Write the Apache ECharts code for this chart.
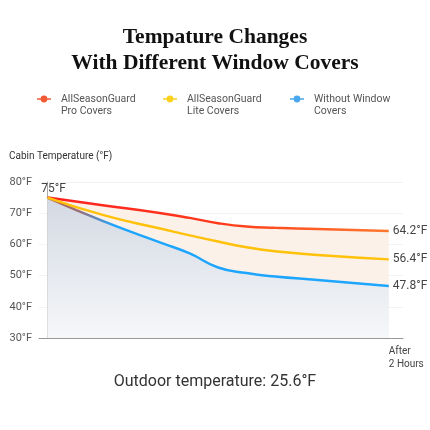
<!DOCTYPE html>
<html>
<head>
<meta charset="utf-8">
<script src="https://cdn.jsdelivr.net/npm/echarts@6/dist/echarts.min.js"></script>
<style>
  html, body { margin: 0; padding: 0; background: #fff; }
  #chart { width: 430px; height: 430px; }
</style>
</head>
<body>
<div id="chart"></div>
<script>
// minutes after start
const minutes = [0, 20, 40, 50, 60, 70, 80, 95, 120];
const proCovers = [75, 72.5, 70.0, 68.5, 66.8, 65.7, 65.3, 64.9, 64.3];
const liteCovers = [75, 69.3, 65.0, 62.9, 60.9, 59.1, 57.8, 56.6, 55.2];
const noCovers = [75, 67.3, 60.5, 57.1, 52.6, 50.8, 49.7, 48.6, 46.7];
const seriesNames = ['AllSeasonGuard\nPro Covers', 'AllSeasonGuard\nLite Covers', 'Without Window\nCovers'];
const endLabels = ['64.2°F', '56.4°F', '47.8°F'];
const startLabel = '75°F';
const yTicks = [30, 40, 50, 60, 70, 80];

const FONT = 'Roboto';

function toXY(vals) {
    return minutes.map((m, i) => [m, vals[i]]);
}

// legend icon: dash - dot - dash, with invisible corner points so the dot sits at the first text line
const legendIcon = 'path://M0,0 L0.01,0 L0,0.01 Z M0,3.3 L4,3.3 L4,4.7 L0,4.7 Z M10,3.3 L14,3.3 L14,4.7 L10,4.7 Z ' +
    'M7,0.6 A3.4,3.4 0 1 1 6.99,0.6 Z M19,20 L18.99,20 L19,19.99 Z';

const redLine = new echarts.graphic.LinearGradient(0, 0, 1, 0, [
    { offset: 0, color: '#ff1f1f' }, { offset: 0.5, color: '#ff3a1a' }, { offset: 1, color: '#ff7a2e' }
]);
const blueLine = new echarts.graphic.LinearGradient(0, 0, 1, 0, [
    { offset: 0, color: '#c0603a' }, { offset: 0.1, color: '#98707a' }, { offset: 0.2, color: '#1ea6ff' }, { offset: 1, color: '#1ea6ff' }
]);
const blueArea = new echarts.graphic.LinearGradient(0, 0, 0, 1, [
    { offset: 0, color: '#d3d9e3' }, { offset: 1, color: '#f6f7f9' }
]);

function legendFor(i, left, color) {
    return {
        left: left, top: 93, padding: 0,
        itemWidth: 19, itemHeight: 20,
        data: [{ name: seriesNames[i], icon: legendIcon }],
        textStyle: { fontSize: 10.5, color: '#555', fontFamily: FONT, lineHeight: 12 },
        itemStyle: { color: color },
        selectedMode: false
    };
}

const endLabel = (i) => ({
    show: true, formatter: endLabels[i], distance: 4,
    fontSize: 12, color: '#444', fontFamily: FONT
});

const chart = echarts.init(document.getElementById('chart'));
chart.setOption({
    animation: false,
    backgroundColor: '#fff',
    title: [
        {
            text: 'Tempature Changes\nWith Different Window Covers',
            left: 'center', top: 19,
            textStyle: { fontFamily: 'Liberation Serif', fontSize: 21.5, fontWeight: 'bold', color: '#111', lineHeight: 26 }
        },
        {
            text: 'Cabin Temperature (°F)',
            left: 4, top: 146,
            textStyle: { fontFamily: FONT, fontSize: 10, fontWeight: 'normal', color: '#333' }
        },
        {
            text: 'Outdoor temperature: 25.6°F',
            left: 'center', top: 369,
            textStyle: { fontFamily: FONT, fontSize: 16, fontWeight: 'normal', color: '#333' }
        }
    ],
    legend: [
        legendFor(0, 37, '#f25a35'),
        legendFor(1, 163, '#fad21e'),
        legendFor(2, 290, '#4aa8f0')
    ],
    grid: { left: 39, right: 27, top: 182, bottom: 92 },
    xAxis: {
        type: 'value',
        min: -3, max: 125,
        splitLine: { show: false },
        axisLine: { show: true, lineStyle: { color: '#999', width: 1 } },
        axisTick: { show: false },
        axisLabel: {
            customValues: [120],
            formatter: () => 'After\n2 Hours',
            align: 'left',
            margin: 7,
            fontSize: 10, lineHeight: 13, color: '#444', fontFamily: FONT
        }
    },
    yAxis: {
        type: 'value',
        min: yTicks[0], max: yTicks[yTicks.length - 1], interval: 10,
        axisLine: { show: true, lineStyle: { color: '#aaa' } },
        axisTick: { show: false },
        axisLabel: { formatter: '{value}°F', fontSize: 11, color: '#555', fontFamily: FONT, margin: 7 },
        splitLine: { show: true, lineStyle: { color: '#f3f3f3' } }
    },
    series: [
        {
            name: seriesNames[0], type: 'line', smooth: 0.5,
            symbol: 'circle', symbolSize: 0, showSymbol: true,
            data: toXY(proCovers),
            itemStyle: { color: '#f25a35' },
            lineStyle: { color: redLine, width: 2.5 },
            areaStyle: { color: '#fbf1e9', opacity: 1 },
            label: {
                show: true, position: 'top', distance: 3, offset: [6, 0],
                fontSize: 12, color: '#444', fontFamily: FONT,
                formatter: (p) => p.dataIndex === 0 ? startLabel : ''
            },
            endLabel: endLabel(0),
            z: 2
        },
        {
            name: seriesNames[2], type: 'line', smooth: 0.5,
            symbol: 'circle', showSymbol: false,
            data: toXY(noCovers),
            itemStyle: { color: '#4aa8f0' },
            lineStyle: { color: blueLine, width: 2.5 },
            areaStyle: { color: blueArea, opacity: 1 },
            endLabel: endLabel(2),
            z: 3
        },
        {
            name: seriesNames[1], type: 'line', smooth: 0.5,
            symbol: 'circle', showSymbol: false,
            data: toXY(liteCovers),
            itemStyle: { color: '#fad21e' },
            lineStyle: { color: '#ffc10a', width: 2.5 },
            endLabel: endLabel(1),
            z: 4
        }
    ]
});
</script>
</body>
</html>
